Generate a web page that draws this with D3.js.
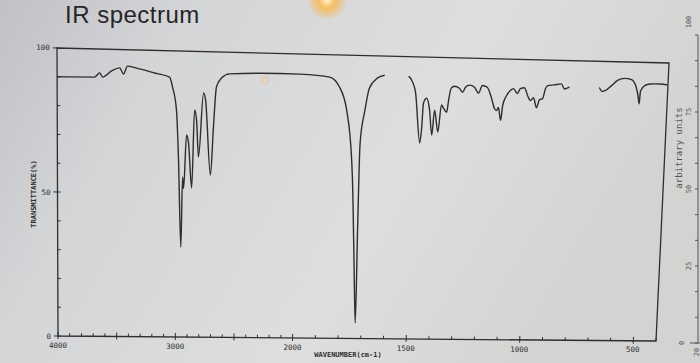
<!DOCTYPE html>
<html>
<head>
<meta charset="utf-8">
<script src="https://cdn.jsdelivr.net/npm/d3@7"></script>
<style>
html, body { margin: 0; padding: 0; }
body { width: 700px; height: 363px; overflow: hidden; position: relative; background: #d6d7d8; }
svg { position: absolute; left: 0; top: 0; }
</style>
</head>
<body>
<svg id="bg" width="700" height="363"></svg>
<svg id="chart" width="700" height="363"></svg>
<svg id="overlay" width="700" height="363"></svg>
<script>
// spectrum (null = gap in the trace)
const waveNumbers = [4000, 3687, 3645, 3620, 3545, 3478, 3445, 3412, 3311, 3186, 3061, 3036, 3002, 2982, 2958,
  2947, 2938, 2916, 2899, 2870, 2850, 2833, 2815, 2776, 2759, 2713, 2691, 2669, 2627, 2561, 2311, 1988,
  1858, 1815, 1782, 1756, 1748, 1737, 1726, 1724, 1721, 1703, 1686, 1651, 1621,
  1570,
  1518, 1500, 1486, 1463, 1456, 1451, 1438, 1424, 1412, 1402, 1386, 1373, 1364, 1350, 1343, 1333, 1320,
  1298, 1284, 1272, 1255, 1233, 1215, 1199, 1178, 1159, 1144, 1135, 1127, 1116, 1109, 1098, 1078, 1065,
  1047, 1035, 1018, 999, 990, 977, 963, 951, 938, 927, 919, 889, 859, 845, 832, 824,
  760,
  695, 682, 668, 643, 618, 588, 558, 539, 527, 521, 517, 500, 478, 453, 432, 402];
const transmittance = [90, 90.2, 91.7, 90.3, 92.5, 93.6, 91.5, 94.3, 93.4, 92.1, 90.8, 87.4, 79.4, 61.9, 31.5,
  56, 52, 70.7, 67.9, 52.2, 79.5, 76, 63.1, 85.5, 83.1, 56.8, 73.7, 87.7, 90.9, 92.4, 92.9, 92.9,
  92.1, 88.7, 80.6, 63, 51.3, 27.7, 5.5, 39.4, 69, 80.7, 88.5, 92.2, 93.2,
  null,
  93.1, 91, 87.1, 69.5, 75.1, 83.7, 85.4, 81.2, 72.4, 81.2, 73.5, 83.1, 82, 80.6, 84.9, 89.2, 89.9,
  89.2, 87.8, 89.6, 90.4, 89.7, 87.6, 90.4, 89.8, 86.2, 82.3, 81.6, 82.7, 78.1, 83.4, 86.3, 88.8, 89.5,
  87.8, 89.6, 89.9, 86.4, 85.4, 86.4, 82.9, 85.8, 86.2, 89.7, 90.8, 91.2, 91.6, 89.8, 90.2, 90.6,
  null,
  90.6, 89.2, 89.6, 91.4, 93.3, 94.1, 93.7, 91.6, 88, 85.1, 89.7, 91.7, 92.3, 92.4, 92.4, 92.1];

const xTickLabels = [4000, 3000, 2000, 1500, 1000, 500];
const yTickLabels = [0, 50, 100];
const sideTickLabels = [0, 25, 50, 75, 100];

const ink = "#2e2e2e";
const monoFont = "'DejaVu Sans Mono', monospace";

// background of the photo
const bg = d3.select("#bg");
const defs = bg.append("defs");
const grad = defs.append("linearGradient").attr("id", "paper").attr("x1", 0).attr("x2", 1).attr("y1", 0).attr("y2", 0.3);
grad.append("stop").attr("offset", "0%").attr("stop-color", "#c1c1c6");
grad.append("stop").attr("offset", "25%").attr("stop-color", "#d4d5d7");
grad.append("stop").attr("offset", "65%").attr("stop-color", "#dddedd");
grad.append("stop").attr("offset", "100%").attr("stop-color", "#d3d3d2");
bg.append("rect").attr("width", 700).attr("height", 363).attr("fill", "url(#paper)");
const glow = defs.append("radialGradient").attr("id", "glow");
glow.append("stop").attr("offset", "0%").attr("stop-color", "#fff3d0");
glow.append("stop").attr("offset", "40%").attr("stop-color", "#f6c060");
glow.append("stop").attr("offset", "100%").attr("stop-color", "#f2b050").attr("stop-opacity", 0);
bg.append("circle").attr("cx", 327).attr("cy", 0).attr("r", 20).attr("fill", "url(#glow)");
bg.append("circle").attr("cx", 265).attr("cy", 80).attr("r", 6).attr("fill", "url(#glow)").attr("opacity", 0.3);

// flat chart coordinates, bent onto the photographed quad
const x0 = 57.5, x1 = 656.5, yTop = 48, yBot = 336;
const x = d3.scaleLinear().domain([4000, 2000, 400]).range([x0, x0 + 235, x1]);
const y = d3.scaleLinear().domain([0, 100]).range([yBot, yTop]);

const TL = [57, 48], TR = [669, 63], BR = [656, 341], BL = [58, 336];
function warp(fx, fy) {
  const u = (fx - x0) / (x1 - x0), v = (fy - yTop) / (yBot - yTop);
  return [0, 1].map(k =>
    (1 - u) * (1 - v) * TL[k] + u * (1 - v) * TR[k] + u * v * BR[k] + (1 - u) * v * BL[k]);
}

const svg = d3.select("#chart");

svg.append("path")
  .attr("d", "M" + [warp(x0, yTop), warp(x1, yTop), warp(x1, yBot), warp(x0, yBot)].join("L") + "Z")
  .attr("fill", "none").attr("stroke", ink).attr("stroke-width", 1.3);

svg.append("g").selectAll("line")
  .data(d3.range(4000, 399, -100))
  .join("line")
  .each(function (d) {
    const a = warp(x(d), d % 500 === 0 ? yBot - 4 : yBot - 3);
    const b = warp(x(d), d % 500 === 0 ? yBot + 3 : yBot);
    d3.select(this).attr("x1", a[0]).attr("y1", a[1]).attr("x2", b[0]).attr("y2", b[1]);
  })
  .attr("stroke", ink).attr("stroke-width", 1);

svg.append("g").selectAll("text")
  .data(xTickLabels)
  .join("text")
  .attr("x", d => warp(x(d), yBot + 12)[0]).attr("y", d => warp(x(d), yBot + 12)[1])
  .attr("text-anchor", "middle")
  .attr("font-family", monoFont).attr("font-size", 7.5).attr("fill", ink)
  .text(d => d);

svg.append("g").selectAll("line")
  .data(d3.range(0, 101, 10))
  .join("line")
  .each(function (d) {
    const a = warp(d % 50 === 0 ? x0 - 4 : x0, y(d));
    const b = warp(x0 + 3, y(d));
    d3.select(this).attr("x1", a[0]).attr("y1", a[1]).attr("x2", b[0]).attr("y2", b[1]);
  })
  .attr("stroke", ink).attr("stroke-width", 1);

svg.append("g").selectAll("text")
  .data(yTickLabels)
  .join("text")
  .attr("x", d => warp(x0 - 7, y(d))[0]).attr("y", d => warp(x0 - 7, y(d))[1]).attr("dy", "0.35em")
  .attr("text-anchor", "end")
  .attr("font-family", monoFont).attr("font-size", 7.5).attr("fill", ink)
  .text(d => d);

svg.append("text")
  .attr("transform", "translate(36,194) rotate(-90)")
  .attr("text-anchor", "middle")
  .attr("font-family", monoFont).attr("font-size", 7).attr("font-weight", "bold").attr("fill", ink)
  .text("TRANSMITTANCE(%)");

svg.append("text")
  .attr("x", 348).attr("y", 357)
  .attr("text-anchor", "middle")
  .attr("font-family", monoFont).attr("font-size", 7).attr("font-weight", "bold").attr("fill", ink)
  .text("WAVENUMBER(cm-1)");

const line = d3.line()
  .defined((d, i) => transmittance[i] !== null)
  .x((d, i) => warp(x(d), y(transmittance[i]))[0])
  .y((d, i) => warp(x(d), y(transmittance[i]))[1])
  .curve(d3.curveMonotoneX);

svg.append("path")
  .attr("d", line(waveNumbers))
  .attr("fill", "none").attr("stroke", ink).attr("stroke-width", 1.4)
  .attr("stroke-linejoin", "round");

// title and the edge of the neighbouring chart
const over = d3.select("#overlay");
over.append("text")
  .attr("x", 65).attr("y", 23)
  .attr("font-family", "'Liberation Sans', Arial, sans-serif")
  .attr("font-size", 24).attr("letter-spacing", 0.5).attr("fill", "#262626")
  .text("IR spectrum");

const side = d3.scaleLinear().domain([0, 100]).range([343, 35]);
over.append("line")
  .attr("x1", 698).attr("x2", 698).attr("y1", side(100)).attr("y2", side(0))
  .attr("stroke", "#555").attr("stroke-width", 1);
over.append("line")
  .attr("x1", 690).attr("x2", 700).attr("y1", side(0)).attr("y2", side(0))
  .attr("stroke", "#555").attr("stroke-width", 1);
over.append("g").selectAll("line")
  .data(d3.range(0, 100.1, 25 / 3))
  .join("line")
  .attr("x1", 695).attr("x2", 698)
  .attr("y1", d => side(d)).attr("y2", d => side(d))
  .attr("stroke", "#555").attr("stroke-width", 1);
over.append("g").selectAll("text")
  .data(sideTickLabels)
  .join("text")
  .attr("transform", d => `translate(${d === 0 ? 684 : 691},${d === 100 ? 22 : side(d)}) rotate(-90)`)
  .attr("text-anchor", "middle")
  .attr("font-family", monoFont).attr("font-size", 7).attr("fill", "#555")
  .text(d => d);
over.append("text")
  .attr("transform", "translate(682,148) rotate(-90)")
  .attr("text-anchor", "middle")
  .attr("font-family", monoFont).attr("font-size", 9).attr("fill", "#555")
  .text("arbitrary units");
over.append("text")
  .attr("transform", "translate(699,352) rotate(-90)")
  .attr("text-anchor", "middle")
  .attr("font-family", monoFont).attr("font-size", 7).attr("fill", "#555")
  .text("20");
</script>
</body>
</html>
